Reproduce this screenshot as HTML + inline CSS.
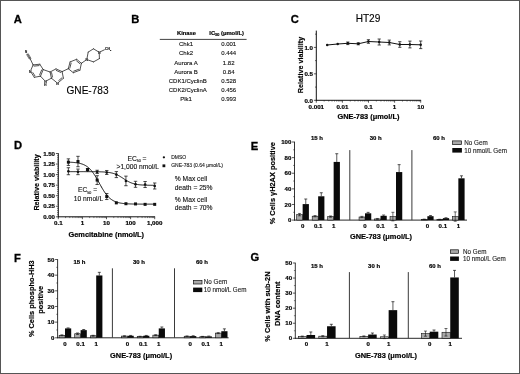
<!DOCTYPE html>
<html lang="en"><head><meta charset="utf-8"><title>GNE-783 figure</title>
<style>html,body{margin:0;padding:0;background:#fff;}body{width:520px;height:374px;overflow:hidden;}svg{display:block;font-family:'Liberation Sans', sans-serif;}</style></head><body>
<svg width="520" height="374" viewBox="0 0 520 374">
<rect x="0.00" y="0.00" width="520.00" height="374.00" fill="#fff"/>
<text x="13.80" y="23.10" font-size="11.2" text-anchor="start" font-weight="700" stroke="#000" stroke-width="0.3" fill="#000">A</text>
<text x="131.30" y="22.80" font-size="11.2" text-anchor="start" font-weight="700" stroke="#000" stroke-width="0.3" fill="#000">B</text>
<text x="290.80" y="22.90" font-size="11.2" text-anchor="start" font-weight="700" stroke="#000" stroke-width="0.3" fill="#000">C</text>
<text x="14.10" y="149.20" font-size="11.2" text-anchor="start" font-weight="700" stroke="#000" stroke-width="0.3" fill="#000">D</text>
<text x="250.70" y="149.70" font-size="11.2" text-anchor="start" font-weight="700" stroke="#000" stroke-width="0.3" fill="#000">E</text>
<text x="14.00" y="261.60" font-size="11.2" text-anchor="start" font-weight="700" stroke="#000" stroke-width="0.3" fill="#000">F</text>
<text x="250.50" y="261.30" font-size="11.2" text-anchor="start" font-weight="700" stroke="#000" stroke-width="0.3" fill="#000">G</text>
<line x1="33.10" y1="64.90" x2="39.80" y2="64.20" stroke="#262626" stroke-width="0.8" stroke-linecap="round"/>
<line x1="34.13" y1="66.10" x2="39.04" y2="65.59" stroke="#262626" stroke-width="0.8" stroke-linecap="round"/>
<line x1="39.80" y1="64.20" x2="43.20" y2="69.60" stroke="#262626" stroke-width="0.8" stroke-linecap="round"/>
<line x1="43.20" y1="69.60" x2="40.50" y2="76.20" stroke="#262626" stroke-width="0.8" stroke-linecap="round"/>
<line x1="41.66" y1="69.94" x2="39.64" y2="74.87" stroke="#262626" stroke-width="0.8" stroke-linecap="round"/>
<line x1="40.50" y1="76.20" x2="34.30" y2="77.30" stroke="#262626" stroke-width="0.8" stroke-linecap="round"/>
<line x1="34.30" y1="77.30" x2="31.26" y2="72.55" stroke="#262626" stroke-width="0.8" stroke-linecap="round"/>
<line x1="34.91" y1="75.84" x2="32.84" y2="72.61" stroke="#262626" stroke-width="0.8" stroke-linecap="round"/>
<line x1="31.03" y1="69.73" x2="33.10" y2="64.90" stroke="#262626" stroke-width="0.8" stroke-linecap="round"/>
<line x1="40.50" y1="76.20" x2="44.23" y2="80.16" stroke="#262626" stroke-width="0.8" stroke-linecap="round"/>
<line x1="46.90" y1="80.60" x2="51.40" y2="78.20" stroke="#262626" stroke-width="0.8" stroke-linecap="round"/>
<line x1="51.40" y1="78.20" x2="50.10" y2="72.00" stroke="#262626" stroke-width="0.8" stroke-linecap="round"/>
<line x1="52.49" y1="77.05" x2="51.56" y2="72.61" stroke="#262626" stroke-width="0.8" stroke-linecap="round"/>
<line x1="50.10" y1="72.00" x2="43.20" y2="69.60" stroke="#262626" stroke-width="0.8" stroke-linecap="round"/>
<line x1="50.10" y1="72.00" x2="56.00" y2="68.90" stroke="#262626" stroke-width="0.8" stroke-linecap="round"/>
<line x1="56.00" y1="68.90" x2="62.10" y2="71.60" stroke="#262626" stroke-width="0.8" stroke-linecap="round"/>
<line x1="56.30" y1="70.45" x2="60.75" y2="72.42" stroke="#262626" stroke-width="0.8" stroke-linecap="round"/>
<line x1="62.10" y1="71.60" x2="63.40" y2="78.30" stroke="#262626" stroke-width="0.8" stroke-linecap="round"/>
<line x1="63.40" y1="78.30" x2="58.82" y2="82.17" stroke="#262626" stroke-width="0.8" stroke-linecap="round"/>
<line x1="61.87" y1="77.89" x2="58.67" y2="80.59" stroke="#262626" stroke-width="0.8" stroke-linecap="round"/>
<line x1="56.35" y1="82.20" x2="51.40" y2="78.20" stroke="#262626" stroke-width="0.8" stroke-linecap="round"/>
<line x1="33.10" y1="64.90" x2="30.10" y2="58.60" stroke="#262626" stroke-width="0.8" stroke-linecap="round"/>
<line x1="30.10" y1="58.60" x2="27.44" y2="54.18" stroke="#262626" stroke-width="0.8" stroke-linecap="round"/>
<line x1="29.33" y1="59.06" x2="26.67" y2="54.65" stroke="#262626" stroke-width="0.6400000000000001" stroke-linecap="round"/>
<line x1="30.87" y1="58.14" x2="28.21" y2="53.72" stroke="#262626" stroke-width="0.6400000000000001" stroke-linecap="round"/>
<text x="26.20" y="53.27" font-size="3.0" text-anchor="middle" font-weight="700" stroke="#262626" stroke-width="0.18" fill="#262626">N</text>
<text x="30.20" y="72.55" font-size="3.5" text-anchor="middle" font-weight="700" stroke="#262626" stroke-width="0.18" fill="#262626">N</text>
<text x="45.40" y="83.05" font-size="3.5" text-anchor="middle" font-weight="700" stroke="#262626" stroke-width="0.18" fill="#262626">N</text>
<text x="45.20" y="86.25" font-size="3.5" text-anchor="middle" font-weight="700" stroke="#262626" stroke-width="0.18" fill="#262626">H</text>
<text x="57.60" y="85.05" font-size="3.5" text-anchor="middle" font-weight="700" stroke="#262626" stroke-width="0.18" fill="#262626">N</text>
<line x1="62.10" y1="71.60" x2="68.30" y2="68.70" stroke="#262626" stroke-width="0.8" stroke-linecap="round"/>
<line x1="68.30" y1="68.70" x2="70.10" y2="61.90" stroke="#262626" stroke-width="0.8" stroke-linecap="round"/>
<line x1="69.79" y1="68.16" x2="71.13" y2="63.10" stroke="#262626" stroke-width="0.8" stroke-linecap="round"/>
<line x1="70.10" y1="61.90" x2="76.70" y2="59.30" stroke="#262626" stroke-width="0.8" stroke-linecap="round"/>
<line x1="76.70" y1="59.30" x2="81.40" y2="63.30" stroke="#262626" stroke-width="0.8" stroke-linecap="round"/>
<line x1="76.54" y1="60.87" x2="79.87" y2="63.71" stroke="#262626" stroke-width="0.8" stroke-linecap="round"/>
<line x1="81.40" y1="63.30" x2="79.90" y2="70.20" stroke="#262626" stroke-width="0.8" stroke-linecap="round"/>
<line x1="79.90" y1="70.20" x2="73.30" y2="72.70" stroke="#262626" stroke-width="0.8" stroke-linecap="round"/>
<line x1="78.60" y1="69.30" x2="73.68" y2="71.17" stroke="#262626" stroke-width="0.8" stroke-linecap="round"/>
<line x1="73.30" y1="72.70" x2="68.30" y2="68.70" stroke="#262626" stroke-width="0.8" stroke-linecap="round"/>
<line x1="81.40" y1="63.30" x2="85.57" y2="60.36" stroke="#262626" stroke-width="0.8" stroke-linecap="round"/>
<line x1="87.08" y1="58.03" x2="88.20" y2="52.10" stroke="#262626" stroke-width="0.8" stroke-linecap="round"/>
<line x1="88.20" y1="52.10" x2="93.50" y2="48.80" stroke="#262626" stroke-width="0.8" stroke-linecap="round"/>
<line x1="93.50" y1="48.80" x2="97.92" y2="51.52" stroke="#262626" stroke-width="0.8" stroke-linecap="round"/>
<line x1="99.25" y1="53.80" x2="99.40" y2="58.60" stroke="#262626" stroke-width="0.8" stroke-linecap="round"/>
<line x1="99.40" y1="58.60" x2="93.50" y2="61.90" stroke="#262626" stroke-width="0.8" stroke-linecap="round"/>
<line x1="93.50" y1="61.90" x2="88.21" y2="60.01" stroke="#262626" stroke-width="0.8" stroke-linecap="round"/>
<line x1="100.55" y1="51.65" x2="104.40" y2="49.80" stroke="#262626" stroke-width="0.8" stroke-linecap="round"/>
<text x="86.80" y="60.75" font-size="3.5" text-anchor="middle" font-weight="700" stroke="#262626" stroke-width="0.18" fill="#262626">N</text>
<text x="99.20" y="53.55" font-size="3.5" text-anchor="middle" font-weight="700" stroke="#262626" stroke-width="0.18" fill="#262626">N</text>
<text x="105.00" y="50.40" font-size="3.5" text-anchor="start" font-weight="700" stroke="#262626" stroke-width="0.18" fill="#262626">CH<tspan font-size="2.2" dy="0.7">3</tspan></text>
<text x="66.50" y="93.90" font-size="10.1" text-anchor="start" stroke="#000" stroke-width="0.12" fill="#000">GNE-783</text>
<text x="186.50" y="35.00" font-size="5.8" text-anchor="middle" font-weight="700" stroke="#000" stroke-width="0.18" fill="#000">Kinase</text>
<text x="226.60" y="35.00" font-size="5.8" text-anchor="middle" font-weight="700" stroke="#000" stroke-width="0.18" fill="#000">IC<tspan font-size="3.8" dy="1.1">50</tspan><tspan dy="-1.1"> (μmol/L)</tspan></text>
<line x1="159.80" y1="39.40" x2="246.60" y2="39.40" stroke="#111" stroke-width="0.8" stroke-linecap="butt"/>
<text x="186.00" y="46.40" font-size="6.0" text-anchor="middle" stroke="#111" stroke-width="0.12" fill="#111">Chk1</text>
<text x="228.70" y="46.40" font-size="6.0" text-anchor="middle" stroke="#111" stroke-width="0.12" fill="#111">0.001</text>
<text x="186.00" y="55.47" font-size="6.0" text-anchor="middle" stroke="#111" stroke-width="0.12" fill="#111">Chk2</text>
<text x="228.70" y="55.47" font-size="6.0" text-anchor="middle" stroke="#111" stroke-width="0.12" fill="#111">0.444</text>
<text x="186.00" y="64.54" font-size="6.0" text-anchor="middle" stroke="#111" stroke-width="0.12" fill="#111">Aurora A</text>
<text x="228.70" y="64.54" font-size="6.0" text-anchor="middle" stroke="#111" stroke-width="0.12" fill="#111">1.82</text>
<text x="186.00" y="73.61" font-size="6.0" text-anchor="middle" stroke="#111" stroke-width="0.12" fill="#111">Aurora B</text>
<text x="228.70" y="73.61" font-size="6.0" text-anchor="middle" stroke="#111" stroke-width="0.12" fill="#111">0.84</text>
<text x="187.80" y="82.68" font-size="6.0" text-anchor="middle" stroke="#111" stroke-width="0.12" fill="#111">CDK1/CyclinB</text>
<text x="228.70" y="82.68" font-size="6.0" text-anchor="middle" stroke="#111" stroke-width="0.12" fill="#111">0.528</text>
<text x="187.80" y="91.75" font-size="6.0" text-anchor="middle" stroke="#111" stroke-width="0.12" fill="#111">CDK2/CyclinA</text>
<text x="228.70" y="91.75" font-size="6.0" text-anchor="middle" stroke="#111" stroke-width="0.12" fill="#111">0.456</text>
<text x="186.00" y="100.82" font-size="6.0" text-anchor="middle" stroke="#111" stroke-width="0.12" fill="#111">Plk1</text>
<text x="228.70" y="100.82" font-size="6.0" text-anchor="middle" stroke="#111" stroke-width="0.12" fill="#111">0.993</text>
<text x="368.00" y="22.30" font-size="10.1" text-anchor="middle" stroke="#000" stroke-width="0.12" fill="#000">HT29</text>
<line x1="316.30" y1="30.60" x2="316.30" y2="100.70" stroke="#111" stroke-width="1.0" stroke-linecap="butt"/>
<line x1="315.90" y1="100.30" x2="421.10" y2="100.30" stroke="#111" stroke-width="1.0" stroke-linecap="butt"/>
<line x1="313.90" y1="100.30" x2="316.30" y2="100.30" stroke="#111" stroke-width="0.7" stroke-linecap="butt"/>
<text x="313.00" y="102.52" font-size="6.2" text-anchor="end" font-weight="700" stroke="#000" stroke-width="0.18" fill="#000">0.0</text>
<line x1="313.90" y1="73.85" x2="316.30" y2="73.85" stroke="#111" stroke-width="0.7" stroke-linecap="butt"/>
<text x="313.00" y="76.07" font-size="6.2" text-anchor="end" font-weight="700" stroke="#000" stroke-width="0.18" fill="#000">0.5</text>
<line x1="313.90" y1="47.40" x2="316.30" y2="47.40" stroke="#111" stroke-width="0.7" stroke-linecap="butt"/>
<text x="313.00" y="49.62" font-size="6.2" text-anchor="end" font-weight="700" stroke="#000" stroke-width="0.18" fill="#000">1.0</text>
<line x1="315.00" y1="87.08" x2="316.30" y2="87.08" stroke="#111" stroke-width="0.6" stroke-linecap="butt"/>
<line x1="315.00" y1="60.62" x2="316.30" y2="60.62" stroke="#111" stroke-width="0.6" stroke-linecap="butt"/>
<line x1="315.00" y1="34.17" x2="316.30" y2="34.17" stroke="#111" stroke-width="0.6" stroke-linecap="butt"/>
<line x1="316.30" y1="100.30" x2="316.30" y2="102.70" stroke="#111" stroke-width="0.7" stroke-linecap="butt"/>
<text x="316.30" y="109.02" font-size="6.2" text-anchor="middle" font-weight="700" stroke="#000" stroke-width="0.18" fill="#000">0.001</text>
<line x1="324.16" y1="100.30" x2="324.16" y2="101.60" stroke="#111" stroke-width="0.5" stroke-linecap="butt"/>
<line x1="328.75" y1="100.30" x2="328.75" y2="101.60" stroke="#111" stroke-width="0.5" stroke-linecap="butt"/>
<line x1="332.01" y1="100.30" x2="332.01" y2="101.60" stroke="#111" stroke-width="0.5" stroke-linecap="butt"/>
<line x1="334.54" y1="100.30" x2="334.54" y2="101.60" stroke="#111" stroke-width="0.5" stroke-linecap="butt"/>
<line x1="336.61" y1="100.30" x2="336.61" y2="101.60" stroke="#111" stroke-width="0.5" stroke-linecap="butt"/>
<line x1="338.36" y1="100.30" x2="338.36" y2="101.60" stroke="#111" stroke-width="0.5" stroke-linecap="butt"/>
<line x1="339.87" y1="100.30" x2="339.87" y2="101.60" stroke="#111" stroke-width="0.5" stroke-linecap="butt"/>
<line x1="341.21" y1="100.30" x2="341.21" y2="101.60" stroke="#111" stroke-width="0.5" stroke-linecap="butt"/>
<line x1="342.40" y1="100.30" x2="342.40" y2="102.70" stroke="#111" stroke-width="0.7" stroke-linecap="butt"/>
<text x="342.40" y="109.02" font-size="6.2" text-anchor="middle" font-weight="700" stroke="#000" stroke-width="0.18" fill="#000">0.01</text>
<line x1="350.26" y1="100.30" x2="350.26" y2="101.60" stroke="#111" stroke-width="0.5" stroke-linecap="butt"/>
<line x1="354.85" y1="100.30" x2="354.85" y2="101.60" stroke="#111" stroke-width="0.5" stroke-linecap="butt"/>
<line x1="358.11" y1="100.30" x2="358.11" y2="101.60" stroke="#111" stroke-width="0.5" stroke-linecap="butt"/>
<line x1="360.64" y1="100.30" x2="360.64" y2="101.60" stroke="#111" stroke-width="0.5" stroke-linecap="butt"/>
<line x1="362.71" y1="100.30" x2="362.71" y2="101.60" stroke="#111" stroke-width="0.5" stroke-linecap="butt"/>
<line x1="364.46" y1="100.30" x2="364.46" y2="101.60" stroke="#111" stroke-width="0.5" stroke-linecap="butt"/>
<line x1="365.97" y1="100.30" x2="365.97" y2="101.60" stroke="#111" stroke-width="0.5" stroke-linecap="butt"/>
<line x1="367.31" y1="100.30" x2="367.31" y2="101.60" stroke="#111" stroke-width="0.5" stroke-linecap="butt"/>
<line x1="368.50" y1="100.30" x2="368.50" y2="102.70" stroke="#111" stroke-width="0.7" stroke-linecap="butt"/>
<text x="368.50" y="109.02" font-size="6.2" text-anchor="middle" font-weight="700" stroke="#000" stroke-width="0.18" fill="#000">0.1</text>
<line x1="376.36" y1="100.30" x2="376.36" y2="101.60" stroke="#111" stroke-width="0.5" stroke-linecap="butt"/>
<line x1="380.95" y1="100.30" x2="380.95" y2="101.60" stroke="#111" stroke-width="0.5" stroke-linecap="butt"/>
<line x1="384.21" y1="100.30" x2="384.21" y2="101.60" stroke="#111" stroke-width="0.5" stroke-linecap="butt"/>
<line x1="386.74" y1="100.30" x2="386.74" y2="101.60" stroke="#111" stroke-width="0.5" stroke-linecap="butt"/>
<line x1="388.81" y1="100.30" x2="388.81" y2="101.60" stroke="#111" stroke-width="0.5" stroke-linecap="butt"/>
<line x1="390.56" y1="100.30" x2="390.56" y2="101.60" stroke="#111" stroke-width="0.5" stroke-linecap="butt"/>
<line x1="392.07" y1="100.30" x2="392.07" y2="101.60" stroke="#111" stroke-width="0.5" stroke-linecap="butt"/>
<line x1="393.41" y1="100.30" x2="393.41" y2="101.60" stroke="#111" stroke-width="0.5" stroke-linecap="butt"/>
<line x1="394.60" y1="100.30" x2="394.60" y2="102.70" stroke="#111" stroke-width="0.7" stroke-linecap="butt"/>
<text x="394.60" y="109.02" font-size="6.2" text-anchor="middle" font-weight="700" stroke="#000" stroke-width="0.18" fill="#000">1</text>
<line x1="402.46" y1="100.30" x2="402.46" y2="101.60" stroke="#111" stroke-width="0.5" stroke-linecap="butt"/>
<line x1="407.05" y1="100.30" x2="407.05" y2="101.60" stroke="#111" stroke-width="0.5" stroke-linecap="butt"/>
<line x1="410.31" y1="100.30" x2="410.31" y2="101.60" stroke="#111" stroke-width="0.5" stroke-linecap="butt"/>
<line x1="412.84" y1="100.30" x2="412.84" y2="101.60" stroke="#111" stroke-width="0.5" stroke-linecap="butt"/>
<line x1="414.91" y1="100.30" x2="414.91" y2="101.60" stroke="#111" stroke-width="0.5" stroke-linecap="butt"/>
<line x1="416.66" y1="100.30" x2="416.66" y2="101.60" stroke="#111" stroke-width="0.5" stroke-linecap="butt"/>
<line x1="418.17" y1="100.30" x2="418.17" y2="101.60" stroke="#111" stroke-width="0.5" stroke-linecap="butt"/>
<line x1="419.51" y1="100.30" x2="419.51" y2="101.60" stroke="#111" stroke-width="0.5" stroke-linecap="butt"/>
<line x1="420.70" y1="100.30" x2="420.70" y2="102.70" stroke="#111" stroke-width="0.7" stroke-linecap="butt"/>
<text x="420.70" y="109.02" font-size="6.2" text-anchor="middle" font-weight="700" stroke="#000" stroke-width="0.18" fill="#000">10</text>
<text x="368.40" y="119.00" font-size="7.4" text-anchor="middle" font-weight="700" stroke="#000" stroke-width="0.18" fill="#000">GNE-783 (μmol/L)</text>
<text x="302.60" y="65.00" font-size="7.2" text-anchor="middle" font-weight="700" stroke="#000" stroke-width="0.18" fill="#000" transform="rotate(-90 302.60 65.00)">Relative viability</text>
<polyline points="327.20,45.00 337.70,44.00 347.80,43.30 358.30,43.80 368.40,41.50 379.20,42.00 389.30,42.50 399.80,44.50 409.90,44.50 420.70,44.80" fill="none" stroke="#111" stroke-width="1.0" stroke-linejoin="round"/>
<circle cx="327.20" cy="45.00" r="1.25" fill="#111"/>
<circle cx="337.70" cy="44.00" r="1.25" fill="#111"/>
<line x1="347.80" y1="42.00" x2="347.80" y2="44.60" stroke="#111" stroke-width="0.75" stroke-linecap="butt"/>
<line x1="346.20" y1="42.00" x2="349.40" y2="42.00" stroke="#111" stroke-width="0.75" stroke-linecap="butt"/>
<line x1="346.20" y1="44.60" x2="349.40" y2="44.60" stroke="#111" stroke-width="0.75" stroke-linecap="butt"/>
<circle cx="347.80" cy="43.30" r="1.25" fill="#111"/>
<line x1="358.30" y1="42.80" x2="358.30" y2="44.80" stroke="#111" stroke-width="0.75" stroke-linecap="butt"/>
<line x1="356.70" y1="42.80" x2="359.90" y2="42.80" stroke="#111" stroke-width="0.75" stroke-linecap="butt"/>
<line x1="356.70" y1="44.80" x2="359.90" y2="44.80" stroke="#111" stroke-width="0.75" stroke-linecap="butt"/>
<circle cx="358.30" cy="43.80" r="1.25" fill="#111"/>
<line x1="368.40" y1="39.70" x2="368.40" y2="43.30" stroke="#111" stroke-width="0.75" stroke-linecap="butt"/>
<line x1="366.80" y1="39.70" x2="370.00" y2="39.70" stroke="#111" stroke-width="0.75" stroke-linecap="butt"/>
<line x1="366.80" y1="43.30" x2="370.00" y2="43.30" stroke="#111" stroke-width="0.75" stroke-linecap="butt"/>
<circle cx="368.40" cy="41.50" r="1.25" fill="#111"/>
<line x1="379.20" y1="39.00" x2="379.20" y2="45.00" stroke="#111" stroke-width="0.75" stroke-linecap="butt"/>
<line x1="377.60" y1="39.00" x2="380.80" y2="39.00" stroke="#111" stroke-width="0.75" stroke-linecap="butt"/>
<line x1="377.60" y1="45.00" x2="380.80" y2="45.00" stroke="#111" stroke-width="0.75" stroke-linecap="butt"/>
<circle cx="379.20" cy="42.00" r="1.25" fill="#111"/>
<line x1="389.30" y1="40.10" x2="389.30" y2="44.90" stroke="#111" stroke-width="0.75" stroke-linecap="butt"/>
<line x1="387.70" y1="40.10" x2="390.90" y2="40.10" stroke="#111" stroke-width="0.75" stroke-linecap="butt"/>
<line x1="387.70" y1="44.90" x2="390.90" y2="44.90" stroke="#111" stroke-width="0.75" stroke-linecap="butt"/>
<circle cx="389.30" cy="42.50" r="1.25" fill="#111"/>
<line x1="399.80" y1="41.70" x2="399.80" y2="47.30" stroke="#111" stroke-width="0.75" stroke-linecap="butt"/>
<line x1="398.20" y1="41.70" x2="401.40" y2="41.70" stroke="#111" stroke-width="0.75" stroke-linecap="butt"/>
<line x1="398.20" y1="47.30" x2="401.40" y2="47.30" stroke="#111" stroke-width="0.75" stroke-linecap="butt"/>
<circle cx="399.80" cy="44.50" r="1.25" fill="#111"/>
<line x1="409.90" y1="41.10" x2="409.90" y2="47.90" stroke="#111" stroke-width="0.75" stroke-linecap="butt"/>
<line x1="408.30" y1="41.10" x2="411.50" y2="41.10" stroke="#111" stroke-width="0.75" stroke-linecap="butt"/>
<line x1="408.30" y1="47.90" x2="411.50" y2="47.90" stroke="#111" stroke-width="0.75" stroke-linecap="butt"/>
<circle cx="409.90" cy="44.50" r="1.25" fill="#111"/>
<line x1="420.70" y1="41.00" x2="420.70" y2="48.60" stroke="#111" stroke-width="0.75" stroke-linecap="butt"/>
<line x1="419.10" y1="41.00" x2="422.30" y2="41.00" stroke="#111" stroke-width="0.75" stroke-linecap="butt"/>
<line x1="419.10" y1="48.60" x2="422.30" y2="48.60" stroke="#111" stroke-width="0.75" stroke-linecap="butt"/>
<circle cx="420.70" cy="44.80" r="1.25" fill="#111"/>
<line x1="58.30" y1="153.20" x2="58.30" y2="217.20" stroke="#111" stroke-width="1.0" stroke-linecap="butt"/>
<line x1="57.90" y1="216.80" x2="155.10" y2="216.80" stroke="#111" stroke-width="1.0" stroke-linecap="butt"/>
<line x1="55.90" y1="216.80" x2="58.30" y2="216.80" stroke="#111" stroke-width="0.7" stroke-linecap="butt"/>
<text x="55.00" y="218.98" font-size="6.1" text-anchor="end" font-weight="700" stroke="#000" stroke-width="0.18" fill="#000">0.00</text>
<line x1="57.00" y1="214.69" x2="58.30" y2="214.69" stroke="#111" stroke-width="0.5" stroke-linecap="butt"/>
<line x1="57.00" y1="212.58" x2="58.30" y2="212.58" stroke="#111" stroke-width="0.5" stroke-linecap="butt"/>
<line x1="57.00" y1="210.47" x2="58.30" y2="210.47" stroke="#111" stroke-width="0.5" stroke-linecap="butt"/>
<line x1="57.00" y1="208.36" x2="58.30" y2="208.36" stroke="#111" stroke-width="0.5" stroke-linecap="butt"/>
<line x1="55.90" y1="206.25" x2="58.30" y2="206.25" stroke="#111" stroke-width="0.7" stroke-linecap="butt"/>
<text x="55.00" y="208.43" font-size="6.1" text-anchor="end" font-weight="700" stroke="#000" stroke-width="0.18" fill="#000">0.25</text>
<line x1="57.00" y1="204.14" x2="58.30" y2="204.14" stroke="#111" stroke-width="0.5" stroke-linecap="butt"/>
<line x1="57.00" y1="202.03" x2="58.30" y2="202.03" stroke="#111" stroke-width="0.5" stroke-linecap="butt"/>
<line x1="57.00" y1="199.92" x2="58.30" y2="199.92" stroke="#111" stroke-width="0.5" stroke-linecap="butt"/>
<line x1="57.00" y1="197.81" x2="58.30" y2="197.81" stroke="#111" stroke-width="0.5" stroke-linecap="butt"/>
<line x1="55.90" y1="195.70" x2="58.30" y2="195.70" stroke="#111" stroke-width="0.7" stroke-linecap="butt"/>
<text x="55.00" y="197.88" font-size="6.1" text-anchor="end" font-weight="700" stroke="#000" stroke-width="0.18" fill="#000">0.50</text>
<line x1="57.00" y1="193.59" x2="58.30" y2="193.59" stroke="#111" stroke-width="0.5" stroke-linecap="butt"/>
<line x1="57.00" y1="191.48" x2="58.30" y2="191.48" stroke="#111" stroke-width="0.5" stroke-linecap="butt"/>
<line x1="57.00" y1="189.37" x2="58.30" y2="189.37" stroke="#111" stroke-width="0.5" stroke-linecap="butt"/>
<line x1="57.00" y1="187.26" x2="58.30" y2="187.26" stroke="#111" stroke-width="0.5" stroke-linecap="butt"/>
<line x1="55.90" y1="185.15" x2="58.30" y2="185.15" stroke="#111" stroke-width="0.7" stroke-linecap="butt"/>
<text x="55.00" y="187.33" font-size="6.1" text-anchor="end" font-weight="700" stroke="#000" stroke-width="0.18" fill="#000">0.75</text>
<line x1="57.00" y1="183.04" x2="58.30" y2="183.04" stroke="#111" stroke-width="0.5" stroke-linecap="butt"/>
<line x1="57.00" y1="180.93" x2="58.30" y2="180.93" stroke="#111" stroke-width="0.5" stroke-linecap="butt"/>
<line x1="57.00" y1="178.82" x2="58.30" y2="178.82" stroke="#111" stroke-width="0.5" stroke-linecap="butt"/>
<line x1="57.00" y1="176.71" x2="58.30" y2="176.71" stroke="#111" stroke-width="0.5" stroke-linecap="butt"/>
<line x1="55.90" y1="174.60" x2="58.30" y2="174.60" stroke="#111" stroke-width="0.7" stroke-linecap="butt"/>
<text x="55.00" y="176.78" font-size="6.1" text-anchor="end" font-weight="700" stroke="#000" stroke-width="0.18" fill="#000">1.00</text>
<line x1="57.00" y1="172.49" x2="58.30" y2="172.49" stroke="#111" stroke-width="0.5" stroke-linecap="butt"/>
<line x1="57.00" y1="170.38" x2="58.30" y2="170.38" stroke="#111" stroke-width="0.5" stroke-linecap="butt"/>
<line x1="57.00" y1="168.27" x2="58.30" y2="168.27" stroke="#111" stroke-width="0.5" stroke-linecap="butt"/>
<line x1="57.00" y1="166.16" x2="58.30" y2="166.16" stroke="#111" stroke-width="0.5" stroke-linecap="butt"/>
<line x1="55.90" y1="164.05" x2="58.30" y2="164.05" stroke="#111" stroke-width="0.7" stroke-linecap="butt"/>
<text x="55.00" y="166.23" font-size="6.1" text-anchor="end" font-weight="700" stroke="#000" stroke-width="0.18" fill="#000">1.25</text>
<line x1="57.00" y1="161.94" x2="58.30" y2="161.94" stroke="#111" stroke-width="0.5" stroke-linecap="butt"/>
<line x1="57.00" y1="159.83" x2="58.30" y2="159.83" stroke="#111" stroke-width="0.5" stroke-linecap="butt"/>
<line x1="57.00" y1="157.72" x2="58.30" y2="157.72" stroke="#111" stroke-width="0.5" stroke-linecap="butt"/>
<line x1="57.00" y1="155.61" x2="58.30" y2="155.61" stroke="#111" stroke-width="0.5" stroke-linecap="butt"/>
<line x1="55.90" y1="153.50" x2="58.30" y2="153.50" stroke="#111" stroke-width="0.7" stroke-linecap="butt"/>
<text x="55.00" y="155.68" font-size="6.1" text-anchor="end" font-weight="700" stroke="#000" stroke-width="0.18" fill="#000">1.50</text>
<line x1="58.30" y1="216.80" x2="58.30" y2="219.20" stroke="#111" stroke-width="0.7" stroke-linecap="butt"/>
<text x="58.30" y="224.92" font-size="6.2" text-anchor="middle" font-weight="700" stroke="#000" stroke-width="0.18" fill="#000">0.1</text>
<line x1="65.55" y1="216.80" x2="65.55" y2="218.10" stroke="#111" stroke-width="0.5" stroke-linecap="butt"/>
<line x1="69.80" y1="216.80" x2="69.80" y2="218.10" stroke="#111" stroke-width="0.5" stroke-linecap="butt"/>
<line x1="72.81" y1="216.80" x2="72.81" y2="218.10" stroke="#111" stroke-width="0.5" stroke-linecap="butt"/>
<line x1="75.15" y1="216.80" x2="75.15" y2="218.10" stroke="#111" stroke-width="0.5" stroke-linecap="butt"/>
<line x1="77.05" y1="216.80" x2="77.05" y2="218.10" stroke="#111" stroke-width="0.5" stroke-linecap="butt"/>
<line x1="78.67" y1="216.80" x2="78.67" y2="218.10" stroke="#111" stroke-width="0.5" stroke-linecap="butt"/>
<line x1="80.06" y1="216.80" x2="80.06" y2="218.10" stroke="#111" stroke-width="0.5" stroke-linecap="butt"/>
<line x1="81.30" y1="216.80" x2="81.30" y2="218.10" stroke="#111" stroke-width="0.5" stroke-linecap="butt"/>
<line x1="82.40" y1="216.80" x2="82.40" y2="219.20" stroke="#111" stroke-width="0.7" stroke-linecap="butt"/>
<text x="82.40" y="224.92" font-size="6.2" text-anchor="middle" font-weight="700" stroke="#000" stroke-width="0.18" fill="#000">1</text>
<line x1="89.65" y1="216.80" x2="89.65" y2="218.10" stroke="#111" stroke-width="0.5" stroke-linecap="butt"/>
<line x1="93.90" y1="216.80" x2="93.90" y2="218.10" stroke="#111" stroke-width="0.5" stroke-linecap="butt"/>
<line x1="96.91" y1="216.80" x2="96.91" y2="218.10" stroke="#111" stroke-width="0.5" stroke-linecap="butt"/>
<line x1="99.25" y1="216.80" x2="99.25" y2="218.10" stroke="#111" stroke-width="0.5" stroke-linecap="butt"/>
<line x1="101.15" y1="216.80" x2="101.15" y2="218.10" stroke="#111" stroke-width="0.5" stroke-linecap="butt"/>
<line x1="102.77" y1="216.80" x2="102.77" y2="218.10" stroke="#111" stroke-width="0.5" stroke-linecap="butt"/>
<line x1="104.16" y1="216.80" x2="104.16" y2="218.10" stroke="#111" stroke-width="0.5" stroke-linecap="butt"/>
<line x1="105.40" y1="216.80" x2="105.40" y2="218.10" stroke="#111" stroke-width="0.5" stroke-linecap="butt"/>
<line x1="106.50" y1="216.80" x2="106.50" y2="219.20" stroke="#111" stroke-width="0.7" stroke-linecap="butt"/>
<text x="106.50" y="224.92" font-size="6.2" text-anchor="middle" font-weight="700" stroke="#000" stroke-width="0.18" fill="#000">10</text>
<line x1="113.75" y1="216.80" x2="113.75" y2="218.10" stroke="#111" stroke-width="0.5" stroke-linecap="butt"/>
<line x1="118.00" y1="216.80" x2="118.00" y2="218.10" stroke="#111" stroke-width="0.5" stroke-linecap="butt"/>
<line x1="121.01" y1="216.80" x2="121.01" y2="218.10" stroke="#111" stroke-width="0.5" stroke-linecap="butt"/>
<line x1="123.35" y1="216.80" x2="123.35" y2="218.10" stroke="#111" stroke-width="0.5" stroke-linecap="butt"/>
<line x1="125.25" y1="216.80" x2="125.25" y2="218.10" stroke="#111" stroke-width="0.5" stroke-linecap="butt"/>
<line x1="126.87" y1="216.80" x2="126.87" y2="218.10" stroke="#111" stroke-width="0.5" stroke-linecap="butt"/>
<line x1="128.26" y1="216.80" x2="128.26" y2="218.10" stroke="#111" stroke-width="0.5" stroke-linecap="butt"/>
<line x1="129.50" y1="216.80" x2="129.50" y2="218.10" stroke="#111" stroke-width="0.5" stroke-linecap="butt"/>
<line x1="130.60" y1="216.80" x2="130.60" y2="219.20" stroke="#111" stroke-width="0.7" stroke-linecap="butt"/>
<text x="130.60" y="224.92" font-size="6.2" text-anchor="middle" font-weight="700" stroke="#000" stroke-width="0.18" fill="#000">100</text>
<line x1="137.85" y1="216.80" x2="137.85" y2="218.10" stroke="#111" stroke-width="0.5" stroke-linecap="butt"/>
<line x1="142.10" y1="216.80" x2="142.10" y2="218.10" stroke="#111" stroke-width="0.5" stroke-linecap="butt"/>
<line x1="145.11" y1="216.80" x2="145.11" y2="218.10" stroke="#111" stroke-width="0.5" stroke-linecap="butt"/>
<line x1="147.45" y1="216.80" x2="147.45" y2="218.10" stroke="#111" stroke-width="0.5" stroke-linecap="butt"/>
<line x1="149.35" y1="216.80" x2="149.35" y2="218.10" stroke="#111" stroke-width="0.5" stroke-linecap="butt"/>
<line x1="150.97" y1="216.80" x2="150.97" y2="218.10" stroke="#111" stroke-width="0.5" stroke-linecap="butt"/>
<line x1="152.36" y1="216.80" x2="152.36" y2="218.10" stroke="#111" stroke-width="0.5" stroke-linecap="butt"/>
<line x1="153.60" y1="216.80" x2="153.60" y2="218.10" stroke="#111" stroke-width="0.5" stroke-linecap="butt"/>
<line x1="154.70" y1="216.80" x2="154.70" y2="219.20" stroke="#111" stroke-width="0.7" stroke-linecap="butt"/>
<text x="154.70" y="224.92" font-size="6.2" text-anchor="middle" font-weight="700" stroke="#000" stroke-width="0.18" fill="#000">1,000</text>
<text x="106.30" y="237.00" font-size="7.4" text-anchor="middle" font-weight="700" stroke="#000" stroke-width="0.18" fill="#000">Gemcitabine (nmol/L)</text>
<text x="39.00" y="182.40" font-size="7.2" text-anchor="middle" font-weight="700" stroke="#000" stroke-width="0.18" fill="#000" transform="rotate(-90 39.00 182.40)">Relative viability</text>
<polyline points="68.39,171.65 69.11,171.65 69.83,171.65 70.54,171.65 71.26,171.65 71.98,171.65 72.70,171.65 73.42,171.65 74.14,171.65 74.86,171.65 75.58,171.65 76.30,171.65 77.02,171.65 77.74,171.65 78.46,171.65 79.18,171.65 79.90,171.65 80.61,171.65 81.33,171.65 82.05,171.65 82.77,171.65 83.49,171.65 84.21,171.65 84.93,171.65 85.65,171.66 86.37,171.66 87.09,171.66 87.81,171.66 88.53,171.66 89.25,171.67 89.97,171.67 90.68,171.67 91.40,171.68 92.12,171.68 92.84,171.69 93.56,171.69 94.28,171.70 95.00,171.71 95.72,171.72 96.44,171.73 97.16,171.74 97.88,171.75 98.60,171.77 99.32,171.78 100.03,171.80 100.75,171.83 101.47,171.85 102.19,171.88 102.91,171.92 103.63,171.96 104.35,172.00 105.07,172.05 105.79,172.11 106.51,172.17 107.23,172.25 107.95,172.33 108.67,172.43 109.39,172.54 110.10,172.66 110.82,172.79 111.54,172.95 112.26,173.12 112.98,173.31 113.70,173.52 114.42,173.75 115.14,174.01 115.86,174.29 116.58,174.60 117.30,174.93 118.02,175.29 118.74,175.66 119.46,176.07 120.17,176.49 120.89,176.93 121.61,177.38 122.33,177.84 123.05,178.31 123.77,178.78 124.49,179.25 125.21,179.71 125.93,180.16 126.65,180.60 127.37,181.02 128.09,181.41 128.81,181.79 129.53,182.14 130.24,182.47 130.96,182.77 131.68,183.04 132.40,183.30 133.12,183.53 133.84,183.73 134.56,183.92 135.28,184.09 136.00,184.24 136.72,184.37 137.44,184.49 138.16,184.60 138.88,184.69 139.60,184.77 140.31,184.85 141.03,184.91 141.75,184.97 142.47,185.02 143.19,185.06 143.91,185.10 144.63,185.13 145.35,185.16 146.07,185.18 146.79,185.21 147.51,185.23 148.23,185.24 148.95,185.26 149.67,185.27 150.38,185.28 151.10,185.29 151.82,185.30 152.54,185.31 153.26,185.32 153.98,185.32 154.70,185.33" fill="none" stroke="#111" stroke-width="1.0" stroke-linejoin="round"/>
<polyline points="68.39,162.15 69.11,162.18 69.83,162.21 70.54,162.24 71.26,162.28 71.98,162.32 72.70,162.37 73.42,162.43 74.14,162.50 74.86,162.57 75.58,162.65 76.30,162.74 77.02,162.84 77.74,162.96 78.46,163.09 79.18,163.24 79.90,163.40 80.61,163.59 81.33,163.79 82.05,164.03 82.77,164.29 83.49,164.57 84.21,164.90 84.93,165.26 85.65,165.65 86.37,166.09 87.09,166.58 87.81,167.12 88.53,167.71 89.25,168.35 89.97,169.05 90.68,169.81 91.40,170.64 92.12,171.52 92.84,172.47 93.56,173.48 94.28,174.54 95.00,175.66 95.72,176.83 96.44,178.04 97.16,179.29 97.88,180.57 98.60,181.86 99.32,183.17 100.03,184.47 100.75,185.76 101.47,187.03 102.19,188.28 102.91,189.48 103.63,190.64 104.35,191.75 105.07,192.80 105.79,193.80 106.51,194.74 107.23,195.61 107.95,196.42 108.67,197.17 109.39,197.86 110.10,198.49 110.82,199.07 111.54,199.60 112.26,200.07 112.98,200.51 113.70,200.90 114.42,201.25 115.14,201.56 115.86,201.85 116.58,202.10 117.30,202.33 118.02,202.53 118.74,202.71 119.46,202.87 120.17,203.02 120.89,203.14 121.61,203.26 122.33,203.36 123.05,203.45 123.77,203.53 124.49,203.60 125.21,203.66 125.93,203.72 126.65,203.76 127.37,203.81 128.09,203.85 128.81,203.88 129.53,203.91 130.24,203.94 130.96,203.96 131.68,203.98 132.40,204.00 133.12,204.02 133.84,204.03 134.56,204.04 135.28,204.05 136.00,204.06 136.72,204.07 137.44,204.08 138.16,204.09 138.88,204.09 139.60,204.10 140.31,204.10 141.03,204.11 141.75,204.11 142.47,204.12 143.19,204.12 143.91,204.12 144.63,204.12 145.35,204.12 146.07,204.13 146.79,204.13 147.51,204.13 148.23,204.13 148.95,204.13 149.67,204.13 150.38,204.13 151.10,204.13 151.82,204.14 152.54,204.14 153.26,204.14 153.98,204.14 154.70,204.14" fill="none" stroke="#111" stroke-width="1.0" stroke-linejoin="round"/>
<line x1="68.39" y1="167.72" x2="68.39" y2="174.72" stroke="#111" stroke-width="0.75" stroke-linecap="butt"/>
<line x1="66.69" y1="167.72" x2="70.09" y2="167.72" stroke="#111" stroke-width="0.75" stroke-linecap="butt"/>
<line x1="66.69" y1="174.72" x2="70.09" y2="174.72" stroke="#111" stroke-width="0.75" stroke-linecap="butt"/>
<circle cx="68.39" cy="171.22" r="1.3" fill="#111"/>
<line x1="77.98" y1="169.06" x2="77.98" y2="174.66" stroke="#111" stroke-width="0.75" stroke-linecap="butt"/>
<line x1="76.28" y1="169.06" x2="79.68" y2="169.06" stroke="#111" stroke-width="0.75" stroke-linecap="butt"/>
<line x1="76.28" y1="174.66" x2="79.68" y2="174.66" stroke="#111" stroke-width="0.75" stroke-linecap="butt"/>
<circle cx="77.98" cy="171.86" r="1.3" fill="#111"/>
<circle cx="87.57" cy="170.38" r="1.3" fill="#111"/>
<line x1="97.16" y1="170.26" x2="97.16" y2="173.46" stroke="#111" stroke-width="0.75" stroke-linecap="butt"/>
<line x1="95.46" y1="170.26" x2="98.86" y2="170.26" stroke="#111" stroke-width="0.75" stroke-linecap="butt"/>
<line x1="95.46" y1="173.46" x2="98.86" y2="173.46" stroke="#111" stroke-width="0.75" stroke-linecap="butt"/>
<circle cx="97.16" cy="171.86" r="1.3" fill="#111"/>
<line x1="106.75" y1="170.49" x2="106.75" y2="174.49" stroke="#111" stroke-width="0.75" stroke-linecap="butt"/>
<line x1="105.05" y1="170.49" x2="108.45" y2="170.49" stroke="#111" stroke-width="0.75" stroke-linecap="butt"/>
<line x1="105.05" y1="174.49" x2="108.45" y2="174.49" stroke="#111" stroke-width="0.75" stroke-linecap="butt"/>
<circle cx="106.75" cy="172.49" r="1.3" fill="#111"/>
<line x1="116.34" y1="171.60" x2="116.34" y2="177.60" stroke="#111" stroke-width="0.75" stroke-linecap="butt"/>
<line x1="114.64" y1="171.60" x2="118.04" y2="171.60" stroke="#111" stroke-width="0.75" stroke-linecap="butt"/>
<line x1="114.64" y1="177.60" x2="118.04" y2="177.60" stroke="#111" stroke-width="0.75" stroke-linecap="butt"/>
<circle cx="116.34" cy="174.60" r="1.3" fill="#111"/>
<line x1="125.93" y1="176.13" x2="125.93" y2="185.73" stroke="#111" stroke-width="0.75" stroke-linecap="butt"/>
<line x1="124.23" y1="176.13" x2="127.63" y2="176.13" stroke="#111" stroke-width="0.75" stroke-linecap="butt"/>
<line x1="124.23" y1="185.73" x2="127.63" y2="185.73" stroke="#111" stroke-width="0.75" stroke-linecap="butt"/>
<circle cx="125.93" cy="180.93" r="1.3" fill="#111"/>
<line x1="135.52" y1="181.31" x2="135.52" y2="187.31" stroke="#111" stroke-width="0.75" stroke-linecap="butt"/>
<line x1="133.82" y1="181.31" x2="137.22" y2="181.31" stroke="#111" stroke-width="0.75" stroke-linecap="butt"/>
<line x1="133.82" y1="187.31" x2="137.22" y2="187.31" stroke="#111" stroke-width="0.75" stroke-linecap="butt"/>
<circle cx="135.52" cy="184.31" r="1.3" fill="#111"/>
<line x1="145.11" y1="181.52" x2="145.11" y2="187.52" stroke="#111" stroke-width="0.75" stroke-linecap="butt"/>
<line x1="143.41" y1="181.52" x2="146.81" y2="181.52" stroke="#111" stroke-width="0.75" stroke-linecap="butt"/>
<line x1="143.41" y1="187.52" x2="146.81" y2="187.52" stroke="#111" stroke-width="0.75" stroke-linecap="butt"/>
<circle cx="145.11" cy="184.52" r="1.3" fill="#111"/>
<line x1="154.70" y1="182.99" x2="154.70" y2="188.99" stroke="#111" stroke-width="0.75" stroke-linecap="butt"/>
<line x1="153.00" y1="182.99" x2="156.40" y2="182.99" stroke="#111" stroke-width="0.75" stroke-linecap="butt"/>
<line x1="153.00" y1="188.99" x2="156.40" y2="188.99" stroke="#111" stroke-width="0.75" stroke-linecap="butt"/>
<circle cx="154.70" cy="185.99" r="1.3" fill="#111"/>
<line x1="68.39" y1="158.85" x2="68.39" y2="165.45" stroke="#111" stroke-width="0.75" stroke-linecap="butt"/>
<line x1="66.69" y1="158.85" x2="70.09" y2="158.85" stroke="#111" stroke-width="0.75" stroke-linecap="butt"/>
<line x1="66.69" y1="165.45" x2="70.09" y2="165.45" stroke="#111" stroke-width="0.75" stroke-linecap="butt"/>
<rect x="66.89" y="160.65" width="3.00" height="3.00" fill="#111"/>
<line x1="77.98" y1="156.32" x2="77.98" y2="166.72" stroke="#111" stroke-width="0.75" stroke-linecap="butt"/>
<line x1="76.28" y1="156.32" x2="79.68" y2="156.32" stroke="#111" stroke-width="0.75" stroke-linecap="butt"/>
<line x1="76.28" y1="166.72" x2="79.68" y2="166.72" stroke="#111" stroke-width="0.75" stroke-linecap="butt"/>
<rect x="76.48" y="160.02" width="3.00" height="3.00" fill="#111"/>
<line x1="87.57" y1="168.54" x2="87.57" y2="170.54" stroke="#111" stroke-width="0.75" stroke-linecap="butt"/>
<line x1="85.87" y1="168.54" x2="89.27" y2="168.54" stroke="#111" stroke-width="0.75" stroke-linecap="butt"/>
<line x1="85.87" y1="170.54" x2="89.27" y2="170.54" stroke="#111" stroke-width="0.75" stroke-linecap="butt"/>
<rect x="86.07" y="168.04" width="3.00" height="3.00" fill="#111"/>
<line x1="97.16" y1="175.69" x2="97.16" y2="184.49" stroke="#111" stroke-width="0.75" stroke-linecap="butt"/>
<line x1="95.46" y1="175.69" x2="98.86" y2="175.69" stroke="#111" stroke-width="0.75" stroke-linecap="butt"/>
<line x1="95.46" y1="184.49" x2="98.86" y2="184.49" stroke="#111" stroke-width="0.75" stroke-linecap="butt"/>
<rect x="95.66" y="178.59" width="3.00" height="3.00" fill="#111"/>
<line x1="106.75" y1="193.54" x2="106.75" y2="199.54" stroke="#111" stroke-width="0.75" stroke-linecap="butt"/>
<line x1="105.05" y1="193.54" x2="108.45" y2="193.54" stroke="#111" stroke-width="0.75" stroke-linecap="butt"/>
<line x1="105.05" y1="199.54" x2="108.45" y2="199.54" stroke="#111" stroke-width="0.75" stroke-linecap="butt"/>
<rect x="105.25" y="195.04" width="3.00" height="3.00" fill="#111"/>
<rect x="114.84" y="201.37" width="3.00" height="3.00" fill="#111"/>
<rect x="124.43" y="202.22" width="3.00" height="3.00" fill="#111"/>
<rect x="134.02" y="202.43" width="3.00" height="3.00" fill="#111"/>
<rect x="143.61" y="202.85" width="3.00" height="3.00" fill="#111"/>
<rect x="153.20" y="202.85" width="3.00" height="3.00" fill="#111"/>
<text x="137.00" y="161.00" font-size="6.7" text-anchor="middle" stroke="#111" stroke-width="0.12" fill="#111">EC<tspan font-size="3.6" dy="1.2">50</tspan><tspan dy="-1.2"> =</tspan></text>
<text x="137.80" y="169.20" font-size="6.7" text-anchor="middle" stroke="#111" stroke-width="0.12" fill="#111">&gt;1,000 nmol/L</text>
<text x="87.60" y="192.30" font-size="6.7" text-anchor="middle" stroke="#111" stroke-width="0.12" fill="#111">EC<tspan font-size="3.6" dy="1.2">50</tspan><tspan dy="-1.2"> =</tspan></text>
<text x="88.50" y="201.40" font-size="6.7" text-anchor="middle" stroke="#111" stroke-width="0.12" fill="#111">10 nmol/L</text>
<circle cx="163.9" cy="157.3" r="1.15" fill="#111"/>
<rect x="162.50" y="164.40" width="2.80" height="2.80" fill="#111"/>
<text x="171.20" y="159.09" font-size="5.0" text-anchor="start" stroke="#222" stroke-width="0.12" fill="#222">DMSO</text>
<text x="171.20" y="167.49" font-size="5.0" text-anchor="start" stroke="#222" stroke-width="0.12" fill="#222">GNE-783 (0.64 μmol/L)</text>
<text x="174.80" y="181.10" font-size="6.7" text-anchor="start" stroke="#111" stroke-width="0.12" fill="#111">% Max cell</text>
<text x="174.80" y="189.50" font-size="6.7" text-anchor="start" stroke="#111" stroke-width="0.12" fill="#111">death = 25%</text>
<text x="174.80" y="202.10" font-size="6.7" text-anchor="start" stroke="#111" stroke-width="0.12" fill="#111">% Max cell</text>
<text x="174.80" y="210.40" font-size="6.7" text-anchor="start" stroke="#111" stroke-width="0.12" fill="#111">death = 70%</text>
<line x1="294.50" y1="141.70" x2="294.50" y2="220.50" stroke="#111" stroke-width="0.85" stroke-linecap="butt"/>
<line x1="294.10" y1="220.10" x2="467.00" y2="220.10" stroke="#111" stroke-width="0.9" stroke-linecap="butt"/>
<line x1="292.00" y1="220.10" x2="294.50" y2="220.10" stroke="#111" stroke-width="0.7" stroke-linecap="butt"/>
<text x="291.30" y="222.28" font-size="6.1" text-anchor="end" font-weight="700" stroke="#000" stroke-width="0.18" fill="#000">0</text>
<line x1="293.10" y1="212.29" x2="294.50" y2="212.29" stroke="#111" stroke-width="0.5" stroke-linecap="butt"/>
<line x1="292.00" y1="204.48" x2="294.50" y2="204.48" stroke="#111" stroke-width="0.7" stroke-linecap="butt"/>
<text x="291.30" y="206.66" font-size="6.1" text-anchor="end" font-weight="700" stroke="#000" stroke-width="0.18" fill="#000">20</text>
<line x1="293.10" y1="196.67" x2="294.50" y2="196.67" stroke="#111" stroke-width="0.5" stroke-linecap="butt"/>
<line x1="292.00" y1="188.86" x2="294.50" y2="188.86" stroke="#111" stroke-width="0.7" stroke-linecap="butt"/>
<text x="291.30" y="191.04" font-size="6.1" text-anchor="end" font-weight="700" stroke="#000" stroke-width="0.18" fill="#000">40</text>
<line x1="293.10" y1="181.05" x2="294.50" y2="181.05" stroke="#111" stroke-width="0.5" stroke-linecap="butt"/>
<line x1="292.00" y1="173.24" x2="294.50" y2="173.24" stroke="#111" stroke-width="0.7" stroke-linecap="butt"/>
<text x="291.30" y="175.42" font-size="6.1" text-anchor="end" font-weight="700" stroke="#000" stroke-width="0.18" fill="#000">60</text>
<line x1="293.10" y1="165.43" x2="294.50" y2="165.43" stroke="#111" stroke-width="0.5" stroke-linecap="butt"/>
<line x1="292.00" y1="157.62" x2="294.50" y2="157.62" stroke="#111" stroke-width="0.7" stroke-linecap="butt"/>
<text x="291.30" y="159.80" font-size="6.1" text-anchor="end" font-weight="700" stroke="#000" stroke-width="0.18" fill="#000">80</text>
<line x1="293.10" y1="149.81" x2="294.50" y2="149.81" stroke="#111" stroke-width="0.5" stroke-linecap="butt"/>
<line x1="292.00" y1="142.00" x2="294.50" y2="142.00" stroke="#111" stroke-width="0.7" stroke-linecap="butt"/>
<text x="291.30" y="144.18" font-size="6.1" text-anchor="end" font-weight="700" stroke="#000" stroke-width="0.18" fill="#000">100</text>
<rect x="296.70" y="214.63" width="5.95" height="5.47" fill="#a9a9a9" stroke="#111" stroke-width="0.6"/>
<line x1="299.52" y1="213.46" x2="299.52" y2="215.80" stroke="#111" stroke-width="0.6" stroke-linecap="butt"/>
<line x1="298.02" y1="213.46" x2="301.02" y2="213.46" stroke="#111" stroke-width="0.6" stroke-linecap="butt"/>
<line x1="298.02" y1="215.80" x2="301.02" y2="215.80" stroke="#111" stroke-width="0.6" stroke-linecap="butt"/>
<line x1="305.77" y1="199.01" x2="305.77" y2="204.09" stroke="#111" stroke-width="0.7" stroke-linecap="butt"/>
<line x1="304.27" y1="199.01" x2="307.27" y2="199.01" stroke="#111" stroke-width="0.7" stroke-linecap="butt"/>
<rect x="302.65" y="204.09" width="6.25" height="16.01" fill="#0a0a0a"/>
<text x="302.65" y="227.88" font-size="6.1" text-anchor="middle" font-weight="700" stroke="#000" stroke-width="0.18" fill="#000">0</text>
<rect x="312.20" y="216.19" width="5.95" height="3.90" fill="#a9a9a9" stroke="#111" stroke-width="0.6"/>
<line x1="315.02" y1="215.57" x2="315.02" y2="216.82" stroke="#111" stroke-width="0.6" stroke-linecap="butt"/>
<line x1="313.52" y1="215.57" x2="316.52" y2="215.57" stroke="#111" stroke-width="0.6" stroke-linecap="butt"/>
<line x1="313.52" y1="216.82" x2="316.52" y2="216.82" stroke="#111" stroke-width="0.6" stroke-linecap="butt"/>
<line x1="321.27" y1="192.76" x2="321.27" y2="196.28" stroke="#111" stroke-width="0.7" stroke-linecap="butt"/>
<line x1="319.77" y1="192.76" x2="322.77" y2="192.76" stroke="#111" stroke-width="0.7" stroke-linecap="butt"/>
<rect x="318.15" y="196.28" width="6.25" height="23.82" fill="#0a0a0a"/>
<text x="318.15" y="227.88" font-size="6.1" text-anchor="middle" font-weight="700" stroke="#000" stroke-width="0.18" fill="#000">0.1</text>
<rect x="327.70" y="216.59" width="5.95" height="3.51" fill="#a9a9a9" stroke="#111" stroke-width="0.6"/>
<line x1="330.52" y1="215.96" x2="330.52" y2="217.21" stroke="#111" stroke-width="0.6" stroke-linecap="butt"/>
<line x1="329.02" y1="215.96" x2="332.02" y2="215.96" stroke="#111" stroke-width="0.6" stroke-linecap="butt"/>
<line x1="329.02" y1="217.21" x2="332.02" y2="217.21" stroke="#111" stroke-width="0.6" stroke-linecap="butt"/>
<line x1="336.77" y1="153.72" x2="336.77" y2="161.92" stroke="#111" stroke-width="0.7" stroke-linecap="butt"/>
<line x1="335.27" y1="153.72" x2="338.27" y2="153.72" stroke="#111" stroke-width="0.7" stroke-linecap="butt"/>
<rect x="333.65" y="161.92" width="6.25" height="58.18" fill="#0a0a0a"/>
<text x="333.65" y="227.88" font-size="6.1" text-anchor="middle" font-weight="700" stroke="#000" stroke-width="0.18" fill="#000">1</text>
<rect x="359.05" y="216.98" width="5.95" height="3.12" fill="#a9a9a9" stroke="#111" stroke-width="0.6"/>
<line x1="361.88" y1="216.35" x2="361.88" y2="217.60" stroke="#111" stroke-width="0.6" stroke-linecap="butt"/>
<line x1="360.38" y1="216.35" x2="363.38" y2="216.35" stroke="#111" stroke-width="0.6" stroke-linecap="butt"/>
<line x1="360.38" y1="217.60" x2="363.38" y2="217.60" stroke="#111" stroke-width="0.6" stroke-linecap="butt"/>
<line x1="368.12" y1="212.37" x2="368.12" y2="213.31" stroke="#111" stroke-width="0.7" stroke-linecap="butt"/>
<line x1="366.62" y1="212.37" x2="369.62" y2="212.37" stroke="#111" stroke-width="0.7" stroke-linecap="butt"/>
<rect x="365.00" y="213.31" width="6.25" height="6.79" fill="#0a0a0a"/>
<text x="365.00" y="227.88" font-size="6.1" text-anchor="middle" font-weight="700" stroke="#000" stroke-width="0.18" fill="#000">0</text>
<rect x="374.55" y="218.93" width="5.95" height="1.17" fill="#a9a9a9" stroke="#111" stroke-width="0.6"/>
<line x1="377.38" y1="218.46" x2="377.38" y2="219.40" stroke="#111" stroke-width="0.6" stroke-linecap="butt"/>
<line x1="375.88" y1="218.46" x2="378.88" y2="218.46" stroke="#111" stroke-width="0.6" stroke-linecap="butt"/>
<line x1="375.88" y1="219.40" x2="378.88" y2="219.40" stroke="#111" stroke-width="0.6" stroke-linecap="butt"/>
<line x1="383.62" y1="215.02" x2="383.62" y2="215.80" stroke="#111" stroke-width="0.7" stroke-linecap="butt"/>
<line x1="382.12" y1="215.02" x2="385.12" y2="215.02" stroke="#111" stroke-width="0.7" stroke-linecap="butt"/>
<rect x="380.50" y="215.80" width="6.25" height="4.30" fill="#0a0a0a"/>
<text x="380.50" y="227.88" font-size="6.1" text-anchor="middle" font-weight="700" stroke="#000" stroke-width="0.18" fill="#000">0.1</text>
<rect x="390.05" y="216.59" width="5.95" height="3.51" fill="#a9a9a9" stroke="#111" stroke-width="0.6"/>
<line x1="392.88" y1="212.29" x2="392.88" y2="220.88" stroke="#111" stroke-width="0.6" stroke-linecap="butt"/>
<line x1="391.38" y1="212.29" x2="394.38" y2="212.29" stroke="#111" stroke-width="0.6" stroke-linecap="butt"/>
<line x1="391.38" y1="220.88" x2="394.38" y2="220.88" stroke="#111" stroke-width="0.6" stroke-linecap="butt"/>
<line x1="399.12" y1="164.65" x2="399.12" y2="172.07" stroke="#111" stroke-width="0.7" stroke-linecap="butt"/>
<line x1="397.62" y1="164.65" x2="400.62" y2="164.65" stroke="#111" stroke-width="0.7" stroke-linecap="butt"/>
<rect x="396.00" y="172.07" width="6.25" height="48.03" fill="#0a0a0a"/>
<text x="396.00" y="227.88" font-size="6.1" text-anchor="middle" font-weight="700" stroke="#000" stroke-width="0.18" fill="#000">1</text>
<rect x="421.40" y="219.32" width="5.95" height="0.78" fill="#a9a9a9" stroke="#111" stroke-width="0.6"/>
<line x1="424.22" y1="219.08" x2="424.22" y2="219.55" stroke="#111" stroke-width="0.6" stroke-linecap="butt"/>
<line x1="422.72" y1="219.08" x2="425.72" y2="219.08" stroke="#111" stroke-width="0.6" stroke-linecap="butt"/>
<line x1="422.72" y1="219.55" x2="425.72" y2="219.55" stroke="#111" stroke-width="0.6" stroke-linecap="butt"/>
<line x1="430.47" y1="215.57" x2="430.47" y2="216.19" stroke="#111" stroke-width="0.7" stroke-linecap="butt"/>
<line x1="428.97" y1="215.57" x2="431.97" y2="215.57" stroke="#111" stroke-width="0.7" stroke-linecap="butt"/>
<rect x="427.35" y="216.19" width="6.25" height="3.90" fill="#0a0a0a"/>
<text x="427.35" y="227.88" font-size="6.1" text-anchor="middle" font-weight="700" stroke="#000" stroke-width="0.18" fill="#000">0</text>
<rect x="436.90" y="219.48" width="5.95" height="0.62" fill="#a9a9a9" stroke="#111" stroke-width="0.6"/>
<line x1="439.72" y1="219.24" x2="439.72" y2="219.71" stroke="#111" stroke-width="0.6" stroke-linecap="butt"/>
<line x1="438.22" y1="219.24" x2="441.22" y2="219.24" stroke="#111" stroke-width="0.6" stroke-linecap="butt"/>
<line x1="438.22" y1="219.71" x2="441.22" y2="219.71" stroke="#111" stroke-width="0.6" stroke-linecap="butt"/>
<line x1="445.97" y1="217.76" x2="445.97" y2="218.15" stroke="#111" stroke-width="0.7" stroke-linecap="butt"/>
<line x1="444.47" y1="217.76" x2="447.47" y2="217.76" stroke="#111" stroke-width="0.7" stroke-linecap="butt"/>
<rect x="442.85" y="218.15" width="6.25" height="1.95" fill="#0a0a0a"/>
<text x="442.85" y="227.88" font-size="6.1" text-anchor="middle" font-weight="700" stroke="#000" stroke-width="0.18" fill="#000">0.1</text>
<rect x="452.40" y="216.59" width="5.95" height="3.51" fill="#a9a9a9" stroke="#111" stroke-width="0.6"/>
<line x1="455.22" y1="211.90" x2="455.22" y2="221.27" stroke="#111" stroke-width="0.6" stroke-linecap="butt"/>
<line x1="453.72" y1="211.90" x2="456.72" y2="211.90" stroke="#111" stroke-width="0.6" stroke-linecap="butt"/>
<line x1="453.72" y1="221.27" x2="456.72" y2="221.27" stroke="#111" stroke-width="0.6" stroke-linecap="butt"/>
<line x1="461.47" y1="175.82" x2="461.47" y2="178.32" stroke="#111" stroke-width="0.7" stroke-linecap="butt"/>
<line x1="459.97" y1="175.82" x2="462.97" y2="175.82" stroke="#111" stroke-width="0.7" stroke-linecap="butt"/>
<rect x="458.35" y="178.32" width="6.25" height="41.78" fill="#0a0a0a"/>
<text x="458.35" y="227.88" font-size="6.1" text-anchor="middle" font-weight="700" stroke="#000" stroke-width="0.18" fill="#000">1</text>
<text x="316.90" y="140.15" font-size="6.0" text-anchor="middle" font-weight="700" stroke="#000" stroke-width="0.18" fill="#000">15 h</text>
<text x="375.70" y="140.15" font-size="6.0" text-anchor="middle" font-weight="700" stroke="#000" stroke-width="0.18" fill="#000">30 h</text>
<text x="438.90" y="140.15" font-size="6.0" text-anchor="middle" font-weight="700" stroke="#000" stroke-width="0.18" fill="#000">60 h</text>
<line x1="349.80" y1="150.10" x2="349.80" y2="220.10" stroke="#3a3a3a" stroke-width="1.0" stroke-linecap="butt"/>
<line x1="411.90" y1="150.10" x2="411.90" y2="220.10" stroke="#3a3a3a" stroke-width="1.0" stroke-linecap="butt"/>
<text x="381.00" y="238.90" font-size="7.4" text-anchor="middle" font-weight="700" stroke="#000" stroke-width="0.18" fill="#000">GNE-783 (μmol/L)</text>
<rect x="452.60" y="140.90" width="9.00" height="3.70" fill="#a9a9a9" stroke="#111" stroke-width="0.7"/>
<rect x="452.30" y="148.00" width="9.60" height="4.60" fill="#0a0a0a"/>
<text x="464.20" y="145.01" font-size="6.3" text-anchor="start" stroke="#222" stroke-width="0.12" fill="#222">No Gem</text>
<text x="464.20" y="152.61" font-size="6.3" text-anchor="start" stroke="#222" stroke-width="0.12" fill="#222">10 nmol/L Gem</text>
<text x="275.10" y="183.20" font-size="7.4" text-anchor="middle" font-weight="700" stroke="#000" stroke-width="0.18" fill="#000" transform="rotate(-90 275.10 183.20)">% Cells γH2AX positive</text>
<line x1="57.60" y1="259.20" x2="57.60" y2="338.20" stroke="#111" stroke-width="0.85" stroke-linecap="butt"/>
<line x1="57.20" y1="337.80" x2="228.60" y2="337.80" stroke="#111" stroke-width="0.9" stroke-linecap="butt"/>
<line x1="55.10" y1="337.80" x2="57.60" y2="337.80" stroke="#111" stroke-width="0.7" stroke-linecap="butt"/>
<text x="54.40" y="339.98" font-size="6.1" text-anchor="end" font-weight="700" stroke="#000" stroke-width="0.18" fill="#000">0</text>
<line x1="56.20" y1="329.97" x2="57.60" y2="329.97" stroke="#111" stroke-width="0.5" stroke-linecap="butt"/>
<line x1="55.10" y1="322.14" x2="57.60" y2="322.14" stroke="#111" stroke-width="0.7" stroke-linecap="butt"/>
<text x="54.40" y="324.32" font-size="6.1" text-anchor="end" font-weight="700" stroke="#000" stroke-width="0.18" fill="#000">10</text>
<line x1="56.20" y1="314.31" x2="57.60" y2="314.31" stroke="#111" stroke-width="0.5" stroke-linecap="butt"/>
<line x1="55.10" y1="306.48" x2="57.60" y2="306.48" stroke="#111" stroke-width="0.7" stroke-linecap="butt"/>
<text x="54.40" y="308.66" font-size="6.1" text-anchor="end" font-weight="700" stroke="#000" stroke-width="0.18" fill="#000">20</text>
<line x1="56.20" y1="298.65" x2="57.60" y2="298.65" stroke="#111" stroke-width="0.5" stroke-linecap="butt"/>
<line x1="55.10" y1="290.82" x2="57.60" y2="290.82" stroke="#111" stroke-width="0.7" stroke-linecap="butt"/>
<text x="54.40" y="293.00" font-size="6.1" text-anchor="end" font-weight="700" stroke="#000" stroke-width="0.18" fill="#000">30</text>
<line x1="56.20" y1="282.99" x2="57.60" y2="282.99" stroke="#111" stroke-width="0.5" stroke-linecap="butt"/>
<line x1="55.10" y1="275.16" x2="57.60" y2="275.16" stroke="#111" stroke-width="0.7" stroke-linecap="butt"/>
<text x="54.40" y="277.34" font-size="6.1" text-anchor="end" font-weight="700" stroke="#000" stroke-width="0.18" fill="#000">40</text>
<line x1="56.20" y1="267.33" x2="57.60" y2="267.33" stroke="#111" stroke-width="0.5" stroke-linecap="butt"/>
<line x1="55.10" y1="259.50" x2="57.60" y2="259.50" stroke="#111" stroke-width="0.7" stroke-linecap="butt"/>
<text x="54.40" y="261.68" font-size="6.1" text-anchor="end" font-weight="700" stroke="#000" stroke-width="0.18" fill="#000">50</text>
<rect x="59.10" y="335.29" width="5.90" height="2.51" fill="#a9a9a9" stroke="#111" stroke-width="0.6"/>
<line x1="61.90" y1="334.82" x2="61.90" y2="335.76" stroke="#111" stroke-width="0.6" stroke-linecap="butt"/>
<line x1="60.40" y1="334.82" x2="63.40" y2="334.82" stroke="#111" stroke-width="0.6" stroke-linecap="butt"/>
<line x1="60.40" y1="335.76" x2="63.40" y2="335.76" stroke="#111" stroke-width="0.6" stroke-linecap="butt"/>
<line x1="68.10" y1="327.93" x2="68.10" y2="328.40" stroke="#111" stroke-width="0.7" stroke-linecap="butt"/>
<line x1="66.60" y1="327.93" x2="69.60" y2="327.93" stroke="#111" stroke-width="0.7" stroke-linecap="butt"/>
<rect x="65.00" y="328.40" width="6.20" height="9.40" fill="#0a0a0a"/>
<text x="65.00" y="345.58" font-size="6.1" text-anchor="middle" font-weight="700" stroke="#000" stroke-width="0.18" fill="#000">0</text>
<rect x="74.70" y="333.73" width="5.90" height="4.07" fill="#a9a9a9" stroke="#111" stroke-width="0.6"/>
<line x1="77.50" y1="332.95" x2="77.50" y2="334.51" stroke="#111" stroke-width="0.6" stroke-linecap="butt"/>
<line x1="76.00" y1="332.95" x2="79.00" y2="332.95" stroke="#111" stroke-width="0.6" stroke-linecap="butt"/>
<line x1="76.00" y1="334.51" x2="79.00" y2="334.51" stroke="#111" stroke-width="0.6" stroke-linecap="butt"/>
<line x1="83.70" y1="329.50" x2="83.70" y2="330.13" stroke="#111" stroke-width="0.7" stroke-linecap="butt"/>
<line x1="82.20" y1="329.50" x2="85.20" y2="329.50" stroke="#111" stroke-width="0.7" stroke-linecap="butt"/>
<rect x="80.60" y="330.13" width="6.20" height="7.67" fill="#0a0a0a"/>
<text x="80.60" y="345.58" font-size="6.1" text-anchor="middle" font-weight="700" stroke="#000" stroke-width="0.18" fill="#000">0.1</text>
<rect x="90.30" y="335.76" width="5.90" height="2.04" fill="#a9a9a9" stroke="#111" stroke-width="0.6"/>
<line x1="93.10" y1="335.29" x2="93.10" y2="336.23" stroke="#111" stroke-width="0.6" stroke-linecap="butt"/>
<line x1="91.60" y1="335.29" x2="94.60" y2="335.29" stroke="#111" stroke-width="0.6" stroke-linecap="butt"/>
<line x1="91.60" y1="336.23" x2="94.60" y2="336.23" stroke="#111" stroke-width="0.6" stroke-linecap="butt"/>
<line x1="99.30" y1="272.34" x2="99.30" y2="275.47" stroke="#111" stroke-width="0.7" stroke-linecap="butt"/>
<line x1="97.80" y1="272.34" x2="100.80" y2="272.34" stroke="#111" stroke-width="0.7" stroke-linecap="butt"/>
<rect x="96.20" y="275.47" width="6.20" height="62.33" fill="#0a0a0a"/>
<text x="96.20" y="345.58" font-size="6.1" text-anchor="middle" font-weight="700" stroke="#000" stroke-width="0.18" fill="#000">1</text>
<rect x="121.65" y="336.08" width="5.90" height="1.72" fill="#a9a9a9" stroke="#111" stroke-width="0.6"/>
<line x1="124.45" y1="335.76" x2="124.45" y2="336.39" stroke="#111" stroke-width="0.6" stroke-linecap="butt"/>
<line x1="122.95" y1="335.76" x2="125.95" y2="335.76" stroke="#111" stroke-width="0.6" stroke-linecap="butt"/>
<line x1="122.95" y1="336.39" x2="125.95" y2="336.39" stroke="#111" stroke-width="0.6" stroke-linecap="butt"/>
<line x1="130.65" y1="335.45" x2="130.65" y2="335.76" stroke="#111" stroke-width="0.7" stroke-linecap="butt"/>
<line x1="129.15" y1="335.45" x2="132.15" y2="335.45" stroke="#111" stroke-width="0.7" stroke-linecap="butt"/>
<rect x="127.55" y="335.76" width="6.20" height="2.04" fill="#0a0a0a"/>
<text x="127.55" y="345.58" font-size="6.1" text-anchor="middle" font-weight="700" stroke="#000" stroke-width="0.18" fill="#000">0</text>
<rect x="137.25" y="336.55" width="5.90" height="1.25" fill="#a9a9a9" stroke="#111" stroke-width="0.6"/>
<line x1="140.05" y1="336.23" x2="140.05" y2="336.86" stroke="#111" stroke-width="0.6" stroke-linecap="butt"/>
<line x1="138.55" y1="336.23" x2="141.55" y2="336.23" stroke="#111" stroke-width="0.6" stroke-linecap="butt"/>
<line x1="138.55" y1="336.86" x2="141.55" y2="336.86" stroke="#111" stroke-width="0.6" stroke-linecap="butt"/>
<line x1="146.25" y1="335.45" x2="146.25" y2="335.76" stroke="#111" stroke-width="0.7" stroke-linecap="butt"/>
<line x1="144.75" y1="335.45" x2="147.75" y2="335.45" stroke="#111" stroke-width="0.7" stroke-linecap="butt"/>
<rect x="143.15" y="335.76" width="6.20" height="2.04" fill="#0a0a0a"/>
<text x="143.15" y="345.58" font-size="6.1" text-anchor="middle" font-weight="700" stroke="#000" stroke-width="0.18" fill="#000">0.1</text>
<rect x="152.85" y="335.14" width="5.90" height="2.66" fill="#a9a9a9" stroke="#111" stroke-width="0.6"/>
<line x1="155.65" y1="334.67" x2="155.65" y2="335.61" stroke="#111" stroke-width="0.6" stroke-linecap="butt"/>
<line x1="154.15" y1="334.67" x2="157.15" y2="334.67" stroke="#111" stroke-width="0.6" stroke-linecap="butt"/>
<line x1="154.15" y1="335.61" x2="157.15" y2="335.61" stroke="#111" stroke-width="0.6" stroke-linecap="butt"/>
<line x1="161.85" y1="326.99" x2="161.85" y2="328.40" stroke="#111" stroke-width="0.7" stroke-linecap="butt"/>
<line x1="160.35" y1="326.99" x2="163.35" y2="326.99" stroke="#111" stroke-width="0.7" stroke-linecap="butt"/>
<rect x="158.75" y="328.40" width="6.20" height="9.40" fill="#0a0a0a"/>
<text x="158.75" y="345.58" font-size="6.1" text-anchor="middle" font-weight="700" stroke="#000" stroke-width="0.18" fill="#000">1</text>
<rect x="184.20" y="336.23" width="5.90" height="1.57" fill="#a9a9a9" stroke="#111" stroke-width="0.6"/>
<line x1="187.00" y1="335.92" x2="187.00" y2="336.55" stroke="#111" stroke-width="0.6" stroke-linecap="butt"/>
<line x1="185.50" y1="335.92" x2="188.50" y2="335.92" stroke="#111" stroke-width="0.6" stroke-linecap="butt"/>
<line x1="185.50" y1="336.55" x2="188.50" y2="336.55" stroke="#111" stroke-width="0.6" stroke-linecap="butt"/>
<line x1="193.20" y1="335.76" x2="193.20" y2="336.08" stroke="#111" stroke-width="0.7" stroke-linecap="butt"/>
<line x1="191.70" y1="335.76" x2="194.70" y2="335.76" stroke="#111" stroke-width="0.7" stroke-linecap="butt"/>
<rect x="190.10" y="336.08" width="6.20" height="1.72" fill="#0a0a0a"/>
<text x="190.10" y="345.58" font-size="6.1" text-anchor="middle" font-weight="700" stroke="#000" stroke-width="0.18" fill="#000">0</text>
<rect x="199.80" y="336.70" width="5.90" height="1.10" fill="#a9a9a9" stroke="#111" stroke-width="0.6"/>
<line x1="202.60" y1="336.39" x2="202.60" y2="337.02" stroke="#111" stroke-width="0.6" stroke-linecap="butt"/>
<line x1="201.10" y1="336.39" x2="204.10" y2="336.39" stroke="#111" stroke-width="0.6" stroke-linecap="butt"/>
<line x1="201.10" y1="337.02" x2="204.10" y2="337.02" stroke="#111" stroke-width="0.6" stroke-linecap="butt"/>
<line x1="208.80" y1="336.08" x2="208.80" y2="336.39" stroke="#111" stroke-width="0.7" stroke-linecap="butt"/>
<line x1="207.30" y1="336.08" x2="210.30" y2="336.08" stroke="#111" stroke-width="0.7" stroke-linecap="butt"/>
<rect x="205.70" y="336.39" width="6.20" height="1.41" fill="#0a0a0a"/>
<text x="205.70" y="345.58" font-size="6.1" text-anchor="middle" font-weight="700" stroke="#000" stroke-width="0.18" fill="#000">0.1</text>
<rect x="215.40" y="333.10" width="5.90" height="4.70" fill="#a9a9a9" stroke="#111" stroke-width="0.6"/>
<line x1="218.20" y1="332.63" x2="218.20" y2="333.57" stroke="#111" stroke-width="0.6" stroke-linecap="butt"/>
<line x1="216.70" y1="332.63" x2="219.70" y2="332.63" stroke="#111" stroke-width="0.6" stroke-linecap="butt"/>
<line x1="216.70" y1="333.57" x2="219.70" y2="333.57" stroke="#111" stroke-width="0.6" stroke-linecap="butt"/>
<line x1="224.40" y1="328.87" x2="224.40" y2="331.22" stroke="#111" stroke-width="0.7" stroke-linecap="butt"/>
<line x1="222.90" y1="328.87" x2="225.90" y2="328.87" stroke="#111" stroke-width="0.7" stroke-linecap="butt"/>
<rect x="221.30" y="331.22" width="6.20" height="6.58" fill="#0a0a0a"/>
<text x="221.30" y="345.58" font-size="6.1" text-anchor="middle" font-weight="700" stroke="#000" stroke-width="0.18" fill="#000">1</text>
<text x="79.50" y="263.65" font-size="6.0" text-anchor="middle" font-weight="700" stroke="#000" stroke-width="0.18" fill="#000">15 h</text>
<text x="138.90" y="263.65" font-size="6.0" text-anchor="middle" font-weight="700" stroke="#000" stroke-width="0.18" fill="#000">30 h</text>
<text x="201.90" y="263.65" font-size="6.0" text-anchor="middle" font-weight="700" stroke="#000" stroke-width="0.18" fill="#000">60 h</text>
<line x1="112.40" y1="268.30" x2="112.40" y2="337.80" stroke="#3a3a3a" stroke-width="1.0" stroke-linecap="butt"/>
<line x1="174.50" y1="268.30" x2="174.50" y2="337.80" stroke="#3a3a3a" stroke-width="1.0" stroke-linecap="butt"/>
<text x="141.10" y="357.60" font-size="7.4" text-anchor="middle" font-weight="700" stroke="#000" stroke-width="0.18" fill="#000">GNE-783 (μmol/L)</text>
<rect x="193.40" y="280.40" width="8.60" height="3.60" fill="#a9a9a9" stroke="#111" stroke-width="0.7"/>
<rect x="193.10" y="287.60" width="9.20" height="4.50" fill="#0a0a0a"/>
<text x="203.70" y="284.46" font-size="6.3" text-anchor="start" stroke="#222" stroke-width="0.12" fill="#222">No Gem</text>
<text x="203.70" y="292.16" font-size="6.3" text-anchor="start" stroke="#222" stroke-width="0.12" fill="#222">10 nmol/L Gem</text>
<text x="33.60" y="298.70" font-size="7.4" text-anchor="middle" font-weight="700" stroke="#000" stroke-width="0.18" fill="#000" transform="rotate(-90 33.60 298.70)">% Cells phospho-HH3</text>
<text x="43.50" y="299.80" font-size="7.4" text-anchor="middle" font-weight="700" stroke="#000" stroke-width="0.18" fill="#000" transform="rotate(-90 43.50 299.80)">positive</text>
<line x1="295.30" y1="262.70" x2="295.30" y2="338.70" stroke="#111" stroke-width="0.85" stroke-linecap="butt"/>
<line x1="294.90" y1="338.30" x2="462.00" y2="338.30" stroke="#111" stroke-width="0.9" stroke-linecap="butt"/>
<line x1="292.80" y1="338.30" x2="295.30" y2="338.30" stroke="#111" stroke-width="0.7" stroke-linecap="butt"/>
<text x="292.10" y="340.48" font-size="6.1" text-anchor="end" font-weight="700" stroke="#000" stroke-width="0.18" fill="#000">0</text>
<line x1="293.90" y1="330.77" x2="295.30" y2="330.77" stroke="#111" stroke-width="0.5" stroke-linecap="butt"/>
<line x1="292.80" y1="323.24" x2="295.30" y2="323.24" stroke="#111" stroke-width="0.7" stroke-linecap="butt"/>
<text x="292.10" y="325.42" font-size="6.1" text-anchor="end" font-weight="700" stroke="#000" stroke-width="0.18" fill="#000">10</text>
<line x1="293.90" y1="315.71" x2="295.30" y2="315.71" stroke="#111" stroke-width="0.5" stroke-linecap="butt"/>
<line x1="292.80" y1="308.18" x2="295.30" y2="308.18" stroke="#111" stroke-width="0.7" stroke-linecap="butt"/>
<text x="292.10" y="310.36" font-size="6.1" text-anchor="end" font-weight="700" stroke="#000" stroke-width="0.18" fill="#000">20</text>
<line x1="293.90" y1="300.65" x2="295.30" y2="300.65" stroke="#111" stroke-width="0.5" stroke-linecap="butt"/>
<line x1="292.80" y1="293.12" x2="295.30" y2="293.12" stroke="#111" stroke-width="0.7" stroke-linecap="butt"/>
<text x="292.10" y="295.30" font-size="6.1" text-anchor="end" font-weight="700" stroke="#000" stroke-width="0.18" fill="#000">30</text>
<line x1="293.90" y1="285.59" x2="295.30" y2="285.59" stroke="#111" stroke-width="0.5" stroke-linecap="butt"/>
<line x1="292.80" y1="278.06" x2="295.30" y2="278.06" stroke="#111" stroke-width="0.7" stroke-linecap="butt"/>
<text x="292.10" y="280.24" font-size="6.1" text-anchor="end" font-weight="700" stroke="#000" stroke-width="0.18" fill="#000">40</text>
<line x1="293.90" y1="270.53" x2="295.30" y2="270.53" stroke="#111" stroke-width="0.5" stroke-linecap="butt"/>
<line x1="292.80" y1="263.00" x2="295.30" y2="263.00" stroke="#111" stroke-width="0.7" stroke-linecap="butt"/>
<text x="292.10" y="265.18" font-size="6.1" text-anchor="end" font-weight="700" stroke="#000" stroke-width="0.18" fill="#000">50</text>
<rect x="298.30" y="336.49" width="8.25" height="1.81" fill="#a9a9a9" stroke="#111" stroke-width="0.6"/>
<line x1="302.27" y1="336.04" x2="302.27" y2="336.94" stroke="#111" stroke-width="0.6" stroke-linecap="butt"/>
<line x1="300.77" y1="336.04" x2="303.77" y2="336.04" stroke="#111" stroke-width="0.6" stroke-linecap="butt"/>
<line x1="300.77" y1="336.94" x2="303.77" y2="336.94" stroke="#111" stroke-width="0.6" stroke-linecap="butt"/>
<line x1="310.82" y1="331.97" x2="310.82" y2="334.99" stroke="#111" stroke-width="0.7" stroke-linecap="butt"/>
<line x1="309.32" y1="331.97" x2="312.32" y2="331.97" stroke="#111" stroke-width="0.7" stroke-linecap="butt"/>
<rect x="306.55" y="334.99" width="8.55" height="3.31" fill="#0a0a0a"/>
<text x="306.55" y="346.38" font-size="6.1" text-anchor="middle" font-weight="700" stroke="#000" stroke-width="0.18" fill="#000">0</text>
<rect x="318.80" y="336.19" width="8.25" height="2.11" fill="#a9a9a9" stroke="#111" stroke-width="0.6"/>
<line x1="322.77" y1="335.59" x2="322.77" y2="336.79" stroke="#111" stroke-width="0.6" stroke-linecap="butt"/>
<line x1="321.27" y1="335.59" x2="324.27" y2="335.59" stroke="#111" stroke-width="0.6" stroke-linecap="butt"/>
<line x1="321.27" y1="336.79" x2="324.27" y2="336.79" stroke="#111" stroke-width="0.6" stroke-linecap="butt"/>
<line x1="331.32" y1="324.29" x2="331.32" y2="326.25" stroke="#111" stroke-width="0.7" stroke-linecap="butt"/>
<line x1="329.82" y1="324.29" x2="332.82" y2="324.29" stroke="#111" stroke-width="0.7" stroke-linecap="butt"/>
<rect x="327.05" y="326.25" width="8.55" height="12.05" fill="#0a0a0a"/>
<text x="327.05" y="346.38" font-size="6.1" text-anchor="middle" font-weight="700" stroke="#000" stroke-width="0.18" fill="#000">1</text>
<rect x="359.90" y="336.34" width="8.25" height="1.96" fill="#a9a9a9" stroke="#111" stroke-width="0.6"/>
<line x1="363.88" y1="335.89" x2="363.88" y2="336.79" stroke="#111" stroke-width="0.6" stroke-linecap="butt"/>
<line x1="362.38" y1="335.89" x2="365.38" y2="335.89" stroke="#111" stroke-width="0.6" stroke-linecap="butt"/>
<line x1="362.38" y1="336.79" x2="365.38" y2="336.79" stroke="#111" stroke-width="0.6" stroke-linecap="butt"/>
<line x1="372.43" y1="333.03" x2="372.43" y2="334.54" stroke="#111" stroke-width="0.7" stroke-linecap="butt"/>
<line x1="370.93" y1="333.03" x2="373.93" y2="333.03" stroke="#111" stroke-width="0.7" stroke-linecap="butt"/>
<rect x="368.15" y="334.54" width="8.55" height="3.77" fill="#0a0a0a"/>
<text x="368.15" y="346.38" font-size="6.1" text-anchor="middle" font-weight="700" stroke="#000" stroke-width="0.18" fill="#000">0</text>
<rect x="380.40" y="336.79" width="8.25" height="1.51" fill="#a9a9a9" stroke="#111" stroke-width="0.6"/>
<line x1="384.38" y1="334.99" x2="384.38" y2="338.60" stroke="#111" stroke-width="0.6" stroke-linecap="butt"/>
<line x1="382.88" y1="334.99" x2="385.88" y2="334.99" stroke="#111" stroke-width="0.6" stroke-linecap="butt"/>
<line x1="382.88" y1="338.60" x2="385.88" y2="338.60" stroke="#111" stroke-width="0.6" stroke-linecap="butt"/>
<line x1="392.93" y1="301.70" x2="392.93" y2="310.14" stroke="#111" stroke-width="0.7" stroke-linecap="butt"/>
<line x1="391.43" y1="301.70" x2="394.43" y2="301.70" stroke="#111" stroke-width="0.7" stroke-linecap="butt"/>
<rect x="388.65" y="310.14" width="8.55" height="28.16" fill="#0a0a0a"/>
<text x="388.65" y="346.38" font-size="6.1" text-anchor="middle" font-weight="700" stroke="#000" stroke-width="0.18" fill="#000">1</text>
<rect x="421.50" y="333.63" width="8.25" height="4.67" fill="#a9a9a9" stroke="#111" stroke-width="0.6"/>
<line x1="425.47" y1="331.07" x2="425.47" y2="336.19" stroke="#111" stroke-width="0.6" stroke-linecap="butt"/>
<line x1="423.97" y1="331.07" x2="426.97" y2="331.07" stroke="#111" stroke-width="0.6" stroke-linecap="butt"/>
<line x1="423.97" y1="336.19" x2="426.97" y2="336.19" stroke="#111" stroke-width="0.6" stroke-linecap="butt"/>
<line x1="434.02" y1="330.02" x2="434.02" y2="331.67" stroke="#111" stroke-width="0.7" stroke-linecap="butt"/>
<line x1="432.52" y1="330.02" x2="435.52" y2="330.02" stroke="#111" stroke-width="0.7" stroke-linecap="butt"/>
<rect x="429.75" y="331.67" width="8.55" height="6.63" fill="#0a0a0a"/>
<text x="429.75" y="346.38" font-size="6.1" text-anchor="middle" font-weight="700" stroke="#000" stroke-width="0.18" fill="#000">0</text>
<rect x="442.00" y="332.28" width="8.25" height="6.02" fill="#a9a9a9" stroke="#111" stroke-width="0.6"/>
<line x1="445.97" y1="328.51" x2="445.97" y2="336.04" stroke="#111" stroke-width="0.6" stroke-linecap="butt"/>
<line x1="444.47" y1="328.51" x2="447.47" y2="328.51" stroke="#111" stroke-width="0.6" stroke-linecap="butt"/>
<line x1="444.47" y1="336.04" x2="447.47" y2="336.04" stroke="#111" stroke-width="0.6" stroke-linecap="butt"/>
<line x1="454.52" y1="270.38" x2="454.52" y2="277.46" stroke="#111" stroke-width="0.7" stroke-linecap="butt"/>
<line x1="453.02" y1="270.38" x2="456.02" y2="270.38" stroke="#111" stroke-width="0.7" stroke-linecap="butt"/>
<rect x="450.25" y="277.46" width="8.55" height="60.84" fill="#0a0a0a"/>
<text x="450.25" y="346.38" font-size="6.1" text-anchor="middle" font-weight="700" stroke="#000" stroke-width="0.18" fill="#000">1</text>
<text x="316.90" y="267.75" font-size="6.0" text-anchor="middle" font-weight="700" stroke="#000" stroke-width="0.18" fill="#000">15 h</text>
<text x="374.10" y="267.75" font-size="6.0" text-anchor="middle" font-weight="700" stroke="#000" stroke-width="0.18" fill="#000">30 h</text>
<text x="435.00" y="267.75" font-size="6.0" text-anchor="middle" font-weight="700" stroke="#000" stroke-width="0.18" fill="#000">60 h</text>
<line x1="349.40" y1="272.10" x2="349.40" y2="338.30" stroke="#3a3a3a" stroke-width="1.0" stroke-linecap="butt"/>
<line x1="408.30" y1="272.10" x2="408.30" y2="338.30" stroke="#3a3a3a" stroke-width="1.0" stroke-linecap="butt"/>
<text x="386.00" y="357.60" font-size="7.4" text-anchor="middle" font-weight="700" stroke="#000" stroke-width="0.18" fill="#000">GNE-783 (μmol/L)</text>
<rect x="450.40" y="249.80" width="8.20" height="3.50" fill="#a9a9a9" stroke="#111" stroke-width="0.7"/>
<rect x="450.10" y="256.50" width="8.80" height="4.40" fill="#0a0a0a"/>
<text x="463.00" y="253.81" font-size="6.3" text-anchor="start" stroke="#222" stroke-width="0.12" fill="#222">No Gem</text>
<text x="463.00" y="261.01" font-size="6.3" text-anchor="start" stroke="#222" stroke-width="0.12" fill="#222">10 nmol/L Gem</text>
<text x="269.90" y="306.60" font-size="7.4" text-anchor="middle" font-weight="700" stroke="#000" stroke-width="0.18" fill="#000" transform="rotate(-90 269.90 306.60)">% Cells with sub-2N</text>
<text x="280.30" y="303.80" font-size="7.4" text-anchor="middle" font-weight="700" stroke="#000" stroke-width="0.18" fill="#000" transform="rotate(-90 280.30 303.80)">DNA content</text>
<rect x="0.5" y="0.5" width="519" height="373" fill="none" stroke="#555" stroke-width="1"/>
</svg></body></html>
